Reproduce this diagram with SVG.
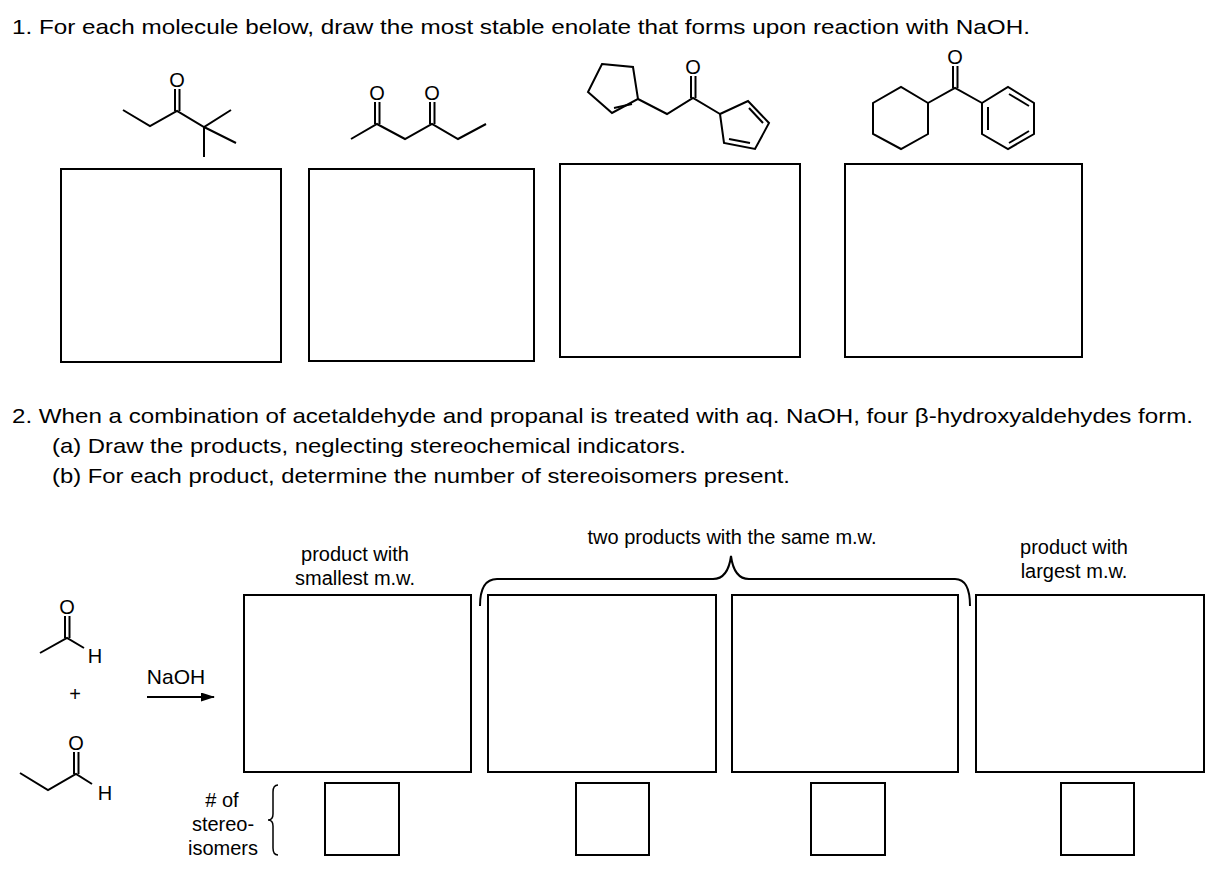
<svg xmlns="http://www.w3.org/2000/svg" width="1232" height="884" viewBox="0 0 1232 884">
<style>
text{font-family:"Liberation Sans",Arial,sans-serif;fill:#000}
.b{fill:none;stroke:#000;stroke-width:2}
.m{fill:none;stroke:#000;stroke-width:2;stroke-linejoin:miter}
</style>
<defs><marker id="ah" markerWidth="14" markerHeight="9" refX="13" refY="4.5" orient="auto" markerUnits="userSpaceOnUse"><path d="M0,0 L14,4.5 L0,9 Z"/></marker></defs>
<rect width="1232" height="884" fill="#fff"/>
<text font-size="21" x="12" y="34" textLength="1018" lengthAdjust="spacingAndGlyphs">1.  For each molecule below, draw the most stable enolate that forms upon reaction with NaOH.</text>
<text font-size="21" x="12" y="423" textLength="1181" lengthAdjust="spacingAndGlyphs">2.  When a combination of acetaldehyde and propanal is treated with  aq. NaOH, four β-hydroxyaldehydes form.</text>
<text font-size="21" x="52" y="453" textLength="634" lengthAdjust="spacingAndGlyphs">(a) Draw the products, neglecting stereochemical indicators.</text>
<text font-size="21" x="52" y="483" textLength="738" lengthAdjust="spacingAndGlyphs">(b) For each product, determine the number of stereoisomers present.</text>
<g id="mol1">
<polyline class="m" points="123,110 150,126 177,111 204,127 231,110"/>
<line class="b" x1="204" y1="127" x2="236" y2="143"/><line class="b" x1="204" y1="127" x2="204" y2="157"/>
<line class="b" x1="175" y1="111" x2="175" y2="89"/><line class="b" x1="179.5" y1="111" x2="179.5" y2="89"/>
<text font-size="20" x="177" y="87" text-anchor="middle">O</text>
</g>
<g id="mol2">
<polyline class="m" points="351,139 377,124 405,139 432,124 458,139 486,124"/>
<line class="b" x1="375" y1="124" x2="375" y2="102"/><line class="b" x1="379.5" y1="124" x2="379.5" y2="102"/>
<line class="b" x1="430" y1="124" x2="430" y2="102"/><line class="b" x1="434.5" y1="124" x2="434.5" y2="102"/>
<text font-size="20" x="377" y="100" text-anchor="middle">O</text><text font-size="20" x="432" y="100" text-anchor="middle">O</text>
</g>
<g id="mol3">
<polygon class="m" points="602,64 633,67 638,99 612,113 588,92"/>
<line class="b" x1="632" y1="104" x2="614" y2="108"/>
<polyline class="m" points="638,99 667,114 693,98 720,114"/>
<line class="b" x1="691" y1="98" x2="691" y2="76"/><line class="b" x1="695.5" y1="98" x2="695.5" y2="76"/>
<text font-size="20" x="693" y="74" text-anchor="middle">O</text>
<polygon class="m" points="720,114 748,101 769,123 755,149 724,143"/>
<line class="b" x1="749" y1="108" x2="763" y2="123"/><line class="b" x1="750" y1="143" x2="729" y2="139"/>
</g>
<g id="mol4">
<polygon class="m" points="928,103 901,87 873,103 873,134 901,149 928,134"/>
<polyline class="m" points="928,103 955,88 982,103"/>
<line class="b" x1="953" y1="88" x2="953" y2="66"/><line class="b" x1="957.5" y1="88" x2="957.5" y2="66"/>
<text font-size="20" x="955" y="64" text-anchor="middle">O</text>
<polygon class="m" points="982,103 1008,87 1034,103 1034,134 1008,149 982,134"/>
<line class="b" x1="988" y1="107" x2="988" y2="130"/><line class="b" x1="1009" y1="94" x2="1029" y2="106"/><line class="b" x1="1029" y1="131" x2="1009" y2="143"/>
</g>
<g id="boxes1">
<rect class="b" x="61" y="169" width="220" height="193"/>
<rect class="b" x="309" y="169" width="225" height="192"/>
<rect class="b" x="560" y="164" width="240" height="193"/>
<rect class="b" x="845" y="164" width="237" height="193"/>
</g>
<g id="acetaldehyde">
<polyline class="m" points="40,653 67,638 84,648"/>
<line class="b" x1="65" y1="638" x2="65" y2="616"/><line class="b" x1="69.5" y1="638" x2="69.5" y2="616"/>
<text font-size="20" x="67" y="614" text-anchor="middle">O</text>
<text font-size="20" x="95" y="663" text-anchor="middle">H</text>
</g>
<text font-size="20" x="75" y="701" text-anchor="middle">+</text>
<g id="propanal">
<polyline class="m" points="20,773 48,790 76,774 92,784"/>
<line class="b" x1="74" y1="774" x2="74" y2="752"/><line class="b" x1="78.5" y1="774" x2="78.5" y2="752"/>
<text font-size="20" x="76" y="750" text-anchor="middle">O</text>
<text font-size="20" x="105" y="800" text-anchor="middle">H</text>
</g>
<g id="connectors">
<line class="b" x1="147" y1="697" x2="214" y2="697" marker-end="url(#ah)"/>
<path class="b" d="M480,606 Q480,579 497,579 L713,579 Q728,579 731,556 Q734,579 749,579 L955,579 Q970,579 970,606"/>
<path fill="none" stroke="#000" stroke-width="1.5" d="M278,785 Q273,785 273,792 L273,814 Q273,820 268,820 Q273,820 273,826 L273,848 Q273,855 278,855"/>
</g>
<text font-size="21" x="176" y="684" text-anchor="middle">NaOH</text>
<text font-size="20" x="355" y="561" text-anchor="middle">product with</text>
<text font-size="20" x="355" y="585" text-anchor="middle">smallest m.w.</text>
<text font-size="20" x="732" y="544" text-anchor="middle">two products with the same m.w.</text>
<text font-size="20" x="1074" y="554" text-anchor="middle">product with</text>
<text font-size="20" x="1074" y="578" text-anchor="middle">largest m.w.</text>
<text font-size="20" x="222" y="807" text-anchor="middle"># of</text>
<text font-size="20" x="223" y="831" text-anchor="middle">stereo-</text>
<text font-size="20" x="223" y="855" text-anchor="middle">isomers</text>
<g id="boxes2">
<rect class="b" x="244" y="595" width="227" height="177"/>
<rect class="b" x="488" y="595" width="228" height="177"/>
<rect class="b" x="732" y="595" width="226" height="177"/>
<rect class="b" x="976" y="595" width="228" height="177"/>
<rect class="b" x="325" y="783" width="74" height="72"/>
<rect class="b" x="576" y="783" width="73" height="72"/>
<rect class="b" x="811" y="783" width="74" height="72"/>
<rect class="b" x="1061" y="783" width="73" height="72"/>
</g>
</svg>
